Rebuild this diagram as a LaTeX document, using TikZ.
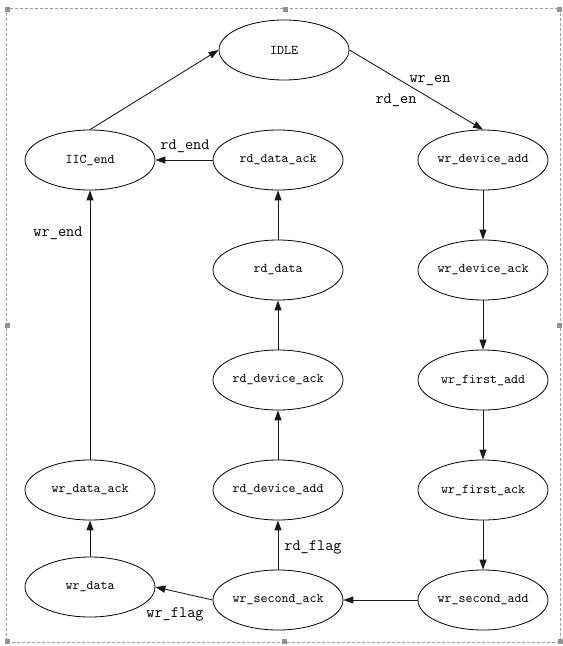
\documentclass[tikz,border=0pt]{standalone}
\usepackage{fontspec}
\usetikzlibrary{shapes.geometric,arrows.meta}
\begin{document}
\begin{tikzpicture}[x=0.75pt,y=-0.75pt,
  st/.style={draw=black, ellipse, line width=0.6pt, minimum width=97.5pt, minimum height=45pt, inner sep=0pt, font=\ttfamily\fontsize{10}{12}\selectfont},
  tr/.style={draw=black!90, line width=0.65pt, -{Triangle[length=7.5pt,width=5.25pt]}},
  lab/.style={font=\ttfamily\fontsize{11.9}{14}\selectfont, inner sep=0pt},
  handle/.style={rectangle, fill=gray!85, draw=none, minimum size=3.75pt, inner sep=0pt}
]
\useasboundingbox (0,0) rectangle (563,646);
\draw[gray!75, dash pattern=on 2.25pt off 1.5pt, line width=0.6pt] (6,8) rectangle (560,642.5);
\node[handle] (h1) at (7.5,9.5) {};
\node[handle] (h2) at (285,9.5) {};
\node[handle] (h3) at (559.5,9.5) {};
\node[handle] (h4) at (7.5,325.5) {};
\node[handle] (h5) at (559.5,325.5) {};
\node[handle] (h6) at (7.5,641.5) {};
\node[handle] (h7) at (284.5,641.5) {};
\node[handle] (h8) at (560,641.5) {};

\node[st] (idle) at (284,50) {IDLE};
\node[st] (iic) at (90,160) {IIC\_end};
\node[st] (rda) at (278,160) {rd\_data\_ack};
\node[st] (wda) at (483,160) {wr\_device\_add};
\node[st] (rdd) at (278,270) {rd\_data};
\node[st] (wdk) at (483,270) {wr\_device\_ack};
\node[st] (rdk) at (278,380) {rd\_device\_ack};
\node[st] (wfa) at (483,380) {wr\_first\_add};
\node[st] (rdad) at (278,490) {rd\_device\_add};
\node[st] (wfk) at (483,490) {wr\_first\_ack};
\node[st] (wdak) at (90,490) {wr\_data\_ack};
\node[st] (wdat) at (90,587) {wr\_data};
\node[st] (wsk) at (278,600) {wr\_second\_ack};
\node[st] (wsa) at (483,600) {wr\_second\_add};

\draw[tr] (iic.north) -- (idle.west);
\draw[tr] (idle.east) -- (wda.north);
\draw[tr] (rda.west) -- (iic.east);
\draw[tr] (wda) -- (wdk);
\draw[tr] (wdk) -- (wfa);
\draw[tr] (wfa) -- (wfk);
\draw[tr] (wfk) -- (wsa);
\draw[tr] (wsa) -- (wsk);
\draw[tr] (wsk) -- (rdad);
\draw[tr] (wsk.west) -- (wdat.east);
\draw[tr] (rdad) -- (rdk);
\draw[tr] (rdk) -- (rdd);
\draw[tr] (rdd) -- (rda);
\draw[tr] (wdat) -- (wdak);
\draw[tr] (wdak) -- (iic);

\node[lab] (lwren) at (430,81) {wr\_en};
\node[lab] (lrden) at (396,100) {rd\_en};
\node[lab] (lrdend) at (185,146) {rd\_end};
\node[lab] (lwrend) at (58,233) {wr\_end};
\node[lab] (lrdflag) at (313,547) {rd\_flag};
\node[lab] (lwrflag) at (175,614) {wr\_flag};
\end{tikzpicture}
\end{document}
